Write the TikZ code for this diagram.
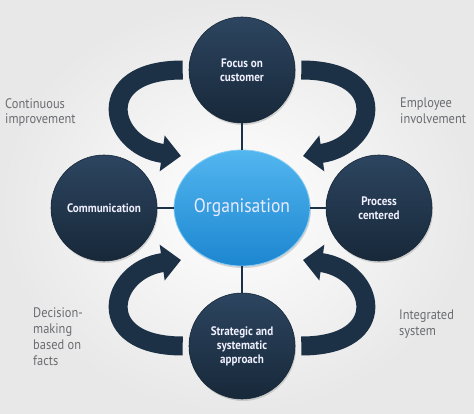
\documentclass[tikz,border=0pt]{standalone}
\usepackage{fontspec}
\setmainfont{PT Sans}[FakeStretch=0.9]
\usetikzlibrary{arrows.meta,
                positioning,
                shadows,
                shapes.geometric
            }

\definecolor{navytop}{HTML}{2D4560}
\definecolor{navybot}{HTML}{172839}
\definecolor{navyline}{HTML}{1D3146}
\definecolor{skytop}{HTML}{52B6EF}
\definecolor{skybot}{HTML}{1C86D0}
\definecolor{labelgray}{HTML}{6A6C70}

\tikzset{
    topic/.style={circle, minimum size=106pt, inner sep=0pt, align=center,
                  top color=navytop, bottom color=navybot,
                  draw=navybot, line width=0.6pt, text=white!94!blue,
                  font=\fontsize{12.3}{14}\selectfont\bfseries,
                  drop shadow={opacity=0.3, shadow xshift=1pt, shadow yshift=-2pt}},
    hub/.style={ellipse, minimum width=134pt, minimum height=116pt, inner sep=0pt,
                top color=skytop, bottom color=skybot,
                draw=skytop!70!white, line width=0.8pt, text=white!92!blue,
                font=\fontsize{19.5}{22}\selectfont,
                drop shadow={opacity=0.3, shadow xshift=1pt, shadow yshift=-2pt}},
    spoke/.style={draw=navyline, line width=1.6pt},
    loop/.style={draw=navyline, line width=19pt,
                 -{Triangle[length=19pt, width=35pt]}},
    principle/.style={anchor=north west, inner sep=0pt, align=left,
                      text=labelgray, font=\fontsize{13.8}{15.8}\selectfont}
}

\begin{document}
\begin{tikzpicture}[x=1pt, y=1pt]
    \shade[inner color=white, outer color=black!9] (0,0) rectangle (474,413);
    \useasboundingbox (0,0) rectangle (474,413);

    \node[hub] (organisation) at (242, 205) {Organisation};
    \node[topic] (customer) at (242, 343) {Focus on\\customer};
    \node[topic] (communication) at (104, 205) {Communication};
    \node[topic] (process) at (379, 205) {Process\\centered};
    \node[topic] (strategy) at (242, 67) {Strategic and\\systematic\\approach};

    \draw[spoke] (customer) -- (organisation);
    \draw[spoke] (communication) -- (organisation);
    \draw[spoke] (process) -- (organisation);
    \draw[spoke] (strategy) -- (organisation);

    \coordinate (inTL) at (181, 257);
    \coordinate (inTR) at (303, 257);
    \coordinate (inBL) at (181, 153);
    \coordinate (inBR) at (303, 153);

    \draw[loop] ([xshift=-6pt]customer.west) .. controls +(-92,0) and +(-72,10) .. (inTL);
    \draw[loop] ([xshift=6pt]customer.east) .. controls +(92,0) and +(72,10) .. (inTR);
    \draw[loop] ([xshift=-6pt]strategy.west) .. controls +(-92,0) and +(-72,-10) .. (inBL);
    \draw[loop] ([xshift=6pt]strategy.east) .. controls +(92,0) and +(72,-10) .. (inBR);

    \node[principle] (improvement) at (5, 315) {Continuous\\improvement};
    \node[principle] (involvement) at (400, 315) {Employee\\involvement};
    \node[principle] (facts) at (33, 105) {Decision-\\making\\based on\\facts};
    \node[principle] (integrated) at (399, 103) {Integrated\\system};
\end{tikzpicture}
\end{document}
